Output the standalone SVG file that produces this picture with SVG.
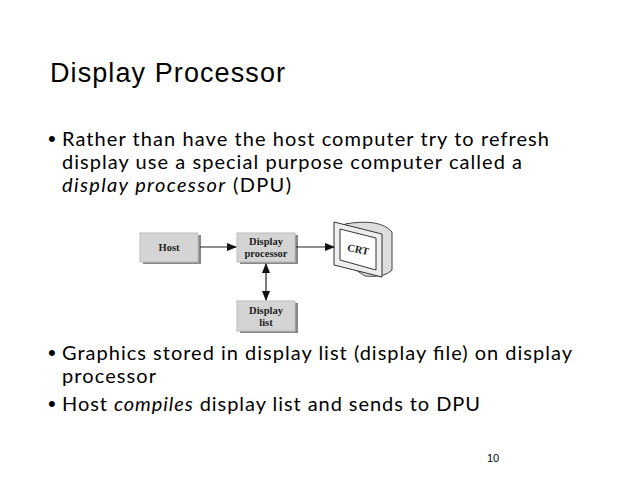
<svg xmlns="http://www.w3.org/2000/svg" width="638" height="478" viewBox="0 0 638 478">
<style>
.t{font-family:"Liberation Sans",Arial,sans-serif;fill:#000}
.b{font-family:Lato,"Open Sans",sans-serif;font-size:20px;fill:#000}
.bl{font-family:"Liberation Sans",sans-serif;font-size:22px}
.box{fill:#d4d4d4;stroke:#bbb;stroke-width:1}
.sh{fill:#888}
.lbl{font-family:"Liberation Serif",serif;font-size:10.5px;font-weight:bold;fill:#222;text-anchor:middle}
.ln{stroke:#222;stroke-width:1.2;fill:none}
</style>
<defs><marker id="a" markerWidth="10" markerHeight="8" refX="9" refY="4" orient="auto-start-reverse" markerUnits="userSpaceOnUse"><path d="M0,0 L10,4 L0,8z" fill="#111"/></marker></defs>
<rect width="638" height="478" fill="#fff"/>
<text class="t" x="50" y="82" font-size="27" textLength="235">Display Processor</text>
<g class="b">
<text class="bl" x="48" y="146">•</text><text x="62" y="146" textLength="487">Rather than have the host computer try to refresh</text>
<text x="62" y="169" textLength="460">display use a special purpose computer called a</text>
<text x="62" y="192" textLength="229"><tspan font-style="italic">display processor</tspan> (DPU)</text>
<text class="bl" x="48" y="360">•</text><text x="62" y="360" textLength="510">Graphics stored in display list (display file) on display</text>
<text x="62" y="383" textLength="94">processor</text>
<text class="bl" x="48" y="411">•</text><text x="62" y="411" textLength="418">Host <tspan font-style="italic">compiles</tspan> display list and sends to DPU</text>
</g>
<text class="t" x="487" y="462" font-size="11">10</text>
<g id="host"><rect class="sh" x="143" y="235" width="58" height="29"/><rect class="box" x="140" y="233" width="58" height="29"/><text class="lbl" x="169" y="251">Host</text></g>
<g id="dp"><rect class="sh" x="240" y="235" width="58" height="29"/><rect class="box" x="237" y="233" width="58" height="29"/><text class="lbl" x="266" y="245">Display</text><text class="lbl" x="266" y="257">processor</text></g>
<g id="dl"><rect class="sh" x="240" y="303" width="58" height="30"/><rect class="box" x="237" y="301" width="58" height="30"/><text class="lbl" x="266" y="314">Display</text><text class="lbl" x="266" y="326">list</text></g>
<g id="crt">
<path d="M345,224 Q380,218 392,232 L392,270 Q385,278 365,276 L350,266 Z" fill="#ddd" stroke="#444"/>
<path d="M334,222 L382,234 L382,277 L334,265 Z" fill="#eee" stroke="#333"/>
<path d="M340,229 L376,238 L376,270 L340,260 Z" fill="#fff" stroke="#333"/>
<text class="lbl" x="358" y="253" transform="rotate(12 358 250)" font-size="11" font-weight="normal">CRT</text>
</g>
<g id="connectors">
<line class="ln" x1="200" y1="247" x2="236" y2="247" marker-end="url(#a)"/>
<line class="ln" x1="296" y1="247" x2="334" y2="247" marker-end="url(#a)"/>
<line class="ln" x1="266" y1="264" x2="266" y2="300" marker-start="url(#a)" marker-end="url(#a)"/>
</g>
</svg>
